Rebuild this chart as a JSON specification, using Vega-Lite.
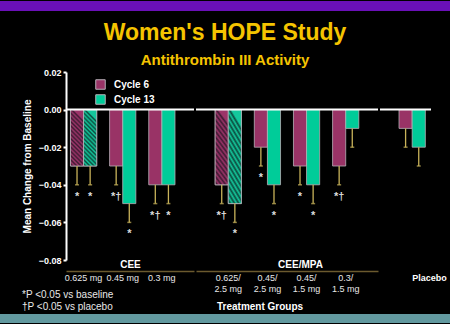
{
  "$schema": "https://vega.github.io/schema/vega-lite/v6.json",
  "background": "#000000",
  "padding": 0,
  "spacing": 0,
  "config": {
    "font": "Liberation Sans",
    "view": {"stroke": null},
    "axis": {"grid": false, "labelOverlap": false}
  },
  "datasets": {
    "d": [
      {"set": "CEE", "dose": "0.625 mg", "cycle": "Cycle 6", "value": -0.03, "lo": -0.04, "sig": "*", "hatch": true},
      {"set": "CEE", "dose": "0.625 mg", "cycle": "Cycle 13", "value": -0.03, "lo": -0.04, "sig": "*", "hatch": true},
      {"set": "CEE", "dose": "0.45 mg", "cycle": "Cycle 6", "value": -0.03, "lo": -0.04, "sig": "*†", "hatch": false},
      {"set": "CEE", "dose": "0.45 mg", "cycle": "Cycle 13", "value": -0.05, "lo": -0.06, "sig": "*", "hatch": false},
      {"set": "CEE", "dose": "0.3 mg", "cycle": "Cycle 6", "value": -0.04, "lo": -0.05, "sig": "*†", "hatch": false},
      {"set": "CEE", "dose": "0.3 mg", "cycle": "Cycle 13", "value": -0.04, "lo": -0.05, "sig": "*", "hatch": false},
      {"set": "CEE/MPA", "dose": "0.625/|2.5 mg", "cycle": "Cycle 6", "value": -0.04, "lo": -0.05, "sig": "*†", "hatch": true},
      {"set": "CEE/MPA", "dose": "0.625/|2.5 mg", "cycle": "Cycle 13", "value": -0.05, "lo": -0.06, "sig": "*", "hatch": true},
      {"set": "CEE/MPA", "dose": "0.45/|2.5 mg", "cycle": "Cycle 6", "value": -0.02, "lo": -0.03, "sig": "*", "hatch": false},
      {"set": "CEE/MPA", "dose": "0.45/|2.5 mg", "cycle": "Cycle 13", "value": -0.04, "lo": -0.05, "sig": "*", "hatch": false},
      {"set": "CEE/MPA", "dose": "0.45/|1.5 mg", "cycle": "Cycle 6", "value": -0.03, "lo": -0.04, "sig": "*", "hatch": false},
      {"set": "CEE/MPA", "dose": "0.45/|1.5 mg", "cycle": "Cycle 13", "value": -0.04, "lo": -0.05, "sig": "*", "hatch": false},
      {"set": "CEE/MPA", "dose": "0.3/|1.5 mg", "cycle": "Cycle 6", "value": -0.03, "lo": -0.04, "sig": "*†", "hatch": false},
      {"set": "CEE/MPA", "dose": "0.3/|1.5 mg", "cycle": "Cycle 13", "value": -0.01, "lo": -0.02, "sig": "", "hatch": false},
      {"set": "Placebo", "dose": "Placebo", "cycle": "Cycle 6", "value": -0.01, "lo": -0.02, "sig": "", "hatch": false},
      {"set": "Placebo", "dose": "Placebo", "cycle": "Cycle 13", "value": -0.02, "lo": -0.03, "sig": "", "hatch": false}
    ]
  },
  "resolve": {"scale": {"color": "shared"}, "legend": {"color": "shared"}},
  "vconcat": [
    {
      "width": 450,
      "height": 10,
      "view": {"fill": "#6a10b8", "stroke": null},
      "title": {
        "text": "Women's HOPE Study",
        "subtitle": "Antithrombin III Activity",
        "orient": "bottom",
        "anchor": "middle",
        "frame": "group",
        "offset": 11,
        "fontSize": 23,
        "fontWeight": "bold",
        "color": "#f5c400",
        "subtitleFontSize": 15,
        "subtitleFontWeight": "bold",
        "subtitleColor": "#f5c400",
        "subtitleFont": "Liberation Sans",
        "subtitlePadding": 8
      },
      "data": {"values": [{}]},
      "mark": {"type": "text"},
      "encoding": {"text": {"value": ""}}
    },
    {
      "spacing": 0,
      "resolve": {
        "scale": {"x": "independent", "xOffset": "independent", "y": "shared", "color": "shared"},
        "axis": {"x": "independent", "y": "independent"},
        "legend": {"color": "shared"}
      },
      "hconcat": [
        {
          "width": 22,
          "height": 188,
          "data": {"values": [{}]},
          "mark": {"type": "text"},
          "encoding": {"text": {"value": ""}}
        },
        {
          "width": 128,
          "height": 188,
          "data": {"name": "d"},
          "transform": [{"filter": "datum.set === 'CEE'"}],
          "resolve": {"axis": {"y": "independent"}},
          "title": {
            "text": "*P <0.05 vs baseline",
            "subtitle": "†P <0.05 vs placebo",
            "orient": "bottom",
            "anchor": "start",
            "frame": "group",
            "dx": -44,
            "offset": 8,
            "fontSize": 10,
            "fontWeight": "normal",
            "color": "#e8e8e8",
            "subtitleFontSize": 10,
            "subtitleFontWeight": "normal",
            "subtitleColor": "#e8e8e8",
            "subtitleFont": "Liberation Sans",
            "subtitlePadding": 2
          },
          "layer": [
            {
              "mark": {"type": "bar", "stroke": "#b8b0b8", "strokeWidth": 1, "strokeOpacity": 0.8},
              "encoding": {
                "x": {
                  "field": "dose", "type": "nominal", "sort": ["0.625 mg", "0.45 mg", "0.3 mg"],
                  "scale": {"paddingInner": 0.33, "paddingOuter": 0.3, "align": 0.19},
                  "axis": {
                    "title": "CEE", "titleY": -2, "titleBaseline": "bottom", "titleFontWeight": "bold",
                    "titleFontSize": 10, "titleColor": "white", "offset": 11,
                    "domainColor": "#6b5a2e", "domainWidth": 1.5, "ticks": false,
                    "labelColor": "#e8e8e8", "labelFontSize": 9, "labelPadding": 2, "labelAngle": 0,
                    "labelOverlap": false
                  }
                },
                "xOffset": {"field": "cycle", "type": "nominal", "sort": ["Cycle 6", "Cycle 13"], "scale": {"paddingInner": 0, "paddingOuter": 0}},
                "y": {
                  "field": "value", "type": "quantitative",
                  "scale": {"domain": [-0.08, 0.02], "nice": false},
                  "axis": {
                    "orient": "left",
                    "values": [-0.08, -0.06, -0.04, -0.02, 0, 0.02],
                    "format": ".2f",
                    "labelOverlap": false,
                    "labelBound": false,
                    "labelFlush": false,
                    "title": "Mean Change from Baseline",
                    "domainColor": "white", "domainWidth": 2,
                    "tickColor": "white", "tickWidth": 2, "tickSize": 3,
                    "labelColor": "white", "labelFontWeight": "bold", "labelFontSize": 9, "labelPadding": 2,
                    "titleColor": "white", "titleFontSize": 10, "titleFontWeight": "bold", "titlePadding": 6
                  }
                },
                "y2": {"datum": 0},
                "color": {
                  "field": "cycle", "type": "nominal",
                  "scale": {"domain": ["Cycle 6", "Cycle 13"], "range": ["#993366", "#00cc99"]},
                  "legend": {
                    "orient": "none", "legendX": 95, "legendY": 78, "title": null,
                    "symbolType": "square", "symbolSize": 90, "symbolStrokeColor": "#c8c8c8", "symbolStrokeWidth": 1,
                    "labelColor": "white", "labelFontSize": 10, "labelFontWeight": "bold", "rowPadding": 0, "labelOffset": 8
                  }
                }
              }
            },
            {
              "transform": [{"filter": "datum.hatch && datum.cycle === 'Cycle 6'"}],
              "mark": {
                "type": "bar", "stroke": "#b8b0b8", "strokeWidth": 1, "strokeOpacity": 0.8,
                "fill": {"gradient": "linear", "x1": 0, "y1": 1, "x2": 0.2333, "y2": 0, "stops": [
                  {"offset": 0, "color": "#9c3469"}, {"offset": 0.0357, "color": "#3e1a32"}, {"offset": 0.0714, "color": "#9c3469"}, {"offset": 0.1071, "color": "#3e1a32"},
                  {"offset": 0.1429, "color": "#9c3469"}, {"offset": 0.1786, "color": "#3e1a32"}, {"offset": 0.2143, "color": "#9c3469"}, {"offset": 0.25, "color": "#3e1a32"},
                  {"offset": 0.2857, "color": "#9c3469"}, {"offset": 0.3214, "color": "#3e1a32"}, {"offset": 0.3571, "color": "#9c3469"}, {"offset": 0.3929, "color": "#3e1a32"},
                  {"offset": 0.4286, "color": "#9c3469"}, {"offset": 0.4643, "color": "#3e1a32"}, {"offset": 0.5, "color": "#9c3469"}, {"offset": 0.5357, "color": "#3e1a32"},
                  {"offset": 0.5714, "color": "#9c3469"}, {"offset": 0.6071, "color": "#3e1a32"}, {"offset": 0.6429, "color": "#9c3469"}, {"offset": 0.6786, "color": "#3e1a32"},
                  {"offset": 0.7143, "color": "#9c3469"}, {"offset": 0.75, "color": "#3e1a32"}, {"offset": 0.7857, "color": "#9c3469"}, {"offset": 0.8214, "color": "#3e1a32"},
                  {"offset": 0.8571, "color": "#9c3469"}, {"offset": 0.8929, "color": "#3e1a32"}, {"offset": 0.9286, "color": "#9c3469"}, {"offset": 0.9643, "color": "#3e1a32"},
                  {"offset": 1, "color": "#9c3469"}
                ]}
              },
              "encoding": {
                "x": {"field": "dose", "type": "nominal", "sort": ["0.625 mg", "0.45 mg", "0.3 mg"]},
                "xOffset": {"field": "cycle", "type": "nominal", "sort": ["Cycle 6", "Cycle 13"]},
                "y": {"field": "value", "type": "quantitative", "axis": null},
                "y2": {"datum": 0}
              }
            },
            {
              "transform": [{"filter": "datum.hatch && datum.cycle === 'Cycle 13'"}],
              "mark": {
                "type": "bar", "stroke": "#b8b0b8", "strokeWidth": 1, "strokeOpacity": 0.8,
                "fill": {"gradient": "linear", "x1": 0, "y1": 1, "x2": 0.2333, "y2": 0, "stops": [
                  {"offset": 0, "color": "#14c89c"}, {"offset": 0.0357, "color": "#0c4a3e"}, {"offset": 0.0714, "color": "#14c89c"}, {"offset": 0.1071, "color": "#0c4a3e"},
                  {"offset": 0.1429, "color": "#14c89c"}, {"offset": 0.1786, "color": "#0c4a3e"}, {"offset": 0.2143, "color": "#14c89c"}, {"offset": 0.25, "color": "#0c4a3e"},
                  {"offset": 0.2857, "color": "#14c89c"}, {"offset": 0.3214, "color": "#0c4a3e"}, {"offset": 0.3571, "color": "#14c89c"}, {"offset": 0.3929, "color": "#0c4a3e"},
                  {"offset": 0.4286, "color": "#14c89c"}, {"offset": 0.4643, "color": "#0c4a3e"}, {"offset": 0.5, "color": "#14c89c"}, {"offset": 0.5357, "color": "#0c4a3e"},
                  {"offset": 0.5714, "color": "#14c89c"}, {"offset": 0.6071, "color": "#0c4a3e"}, {"offset": 0.6429, "color": "#14c89c"}, {"offset": 0.6786, "color": "#0c4a3e"},
                  {"offset": 0.7143, "color": "#14c89c"}, {"offset": 0.75, "color": "#0c4a3e"}, {"offset": 0.7857, "color": "#14c89c"}, {"offset": 0.8214, "color": "#0c4a3e"},
                  {"offset": 0.8571, "color": "#14c89c"}, {"offset": 0.8929, "color": "#0c4a3e"}, {"offset": 0.9286, "color": "#14c89c"}, {"offset": 0.9643, "color": "#0c4a3e"},
                  {"offset": 1, "color": "#14c89c"}
                ]}
              },
              "encoding": {
                "x": {"field": "dose", "type": "nominal", "sort": ["0.625 mg", "0.45 mg", "0.3 mg"]},
                "xOffset": {"field": "cycle", "type": "nominal", "sort": ["Cycle 6", "Cycle 13"]},
                "y": {"field": "value", "type": "quantitative", "axis": null},
                "y2": {"datum": 0}
              }
            },
            {
              "mark": {"type": "rule", "color": "#c9b35a", "strokeWidth": 1.3},
              "encoding": {
                "x": {"field": "dose", "type": "nominal", "sort": ["0.625 mg", "0.45 mg", "0.3 mg"]},
                "xOffset": {"field": "cycle", "type": "nominal", "sort": ["Cycle 6", "Cycle 13"]},
                "y": {"field": "value", "type": "quantitative", "axis": null},
                "y2": {"field": "lo"}
              }
            },
            {
              "mark": {"type": "tick", "color": "#c9b35a", "size": 4, "thickness": 1.5},
              "encoding": {
                "x": {"field": "dose", "type": "nominal", "sort": ["0.625 mg", "0.45 mg", "0.3 mg"]},
                "xOffset": {"field": "cycle", "type": "nominal", "sort": ["Cycle 6", "Cycle 13"]},
                "y": {"field": "lo", "type": "quantitative", "axis": null}
              }
            },
            {
              "mark": {"type": "text", "color": "#dcdcdc", "fontSize": 11, "fontWeight": "bold", "baseline": "alphabetic", "dy": 15},
              "encoding": {
                "x": {"field": "dose", "type": "nominal", "sort": ["0.625 mg", "0.45 mg", "0.3 mg"]},
                "xOffset": {"field": "cycle", "type": "nominal", "sort": ["Cycle 6", "Cycle 13"]},
                "y": {"field": "lo", "type": "quantitative", "axis": null},
                "text": {"field": "sig"}
              }
            },
            {
              "data": {"values": [{}]},
              "mark": {"type": "rule", "color": "white", "strokeWidth": 2},
              "encoding": {"y": {"datum": 0, "axis": null}}
            }
          ]
        },
        {
          "width": 182,
          "height": 188,
          "data": {"name": "d"},
          "transform": [{"filter": "datum.set === 'CEE/MPA'"}],
          "title": {
            "text": "Treatment Groups",
            "orient": "bottom",
            "anchor": "start",
            "frame": "group",
            "dx": 21,
            "offset": 8.5,
            "fontSize": 10,
            "fontWeight": "bold",
            "color": "white"
          },
          "layer": [
            {
              "mark": {"type": "bar", "stroke": "#b8b0b8", "strokeWidth": 1, "strokeOpacity": 0.8},
              "encoding": {
                "x": {
                  "field": "dose", "type": "nominal", "sort": ["0.625/|2.5 mg", "0.45/|2.5 mg", "0.45/|1.5 mg", "0.3/|1.5 mg"],
                  "scale": {"paddingInner": 0.33, "paddingOuter": 0.49, "align": 0.5},
                  "axis": {
                    "title": "CEE/MPA", "titleX": 104, "titleY": -2, "titleBaseline": "bottom", "titleFontWeight": "bold",
                    "titleFontSize": 10, "titleColor": "white", "offset": 11,
                    "domainColor": "#6b5a2e", "domainWidth": 1.5, "ticks": false,
                    "labelColor": "#e8e8e8", "labelFontSize": 9, "labelPadding": 2, "labelAngle": 0,
                    "labelLineHeight": 11, "labelOverlap": false,
                    "labelExpr": "split(datum.label, '|')"
                  }
                },
                "xOffset": {"field": "cycle", "type": "nominal", "sort": ["Cycle 6", "Cycle 13"], "scale": {"paddingInner": 0, "paddingOuter": 0}},
                "y": {"field": "value", "type": "quantitative", "scale": {"domain": [-0.08, 0.02], "nice": false}, "axis": null},
                "y2": {"datum": 0},
                "color": {
                  "field": "cycle", "type": "nominal",
                  "scale": {"domain": ["Cycle 6", "Cycle 13"], "range": ["#993366", "#00cc99"]}
                }
              }
            },
            {
              "transform": [{"filter": "datum.hatch && datum.cycle === 'Cycle 6'"}],
              "mark": {
                "type": "bar", "stroke": "#b8b0b8", "strokeWidth": 1, "strokeOpacity": 0.8,
                "fill": {"gradient": "linear", "x1": 0, "y1": 1, "x2": 0.2333, "y2": 0, "stops": [
                  {"offset": 0, "color": "#9c3469"}, {"offset": 0.0357, "color": "#3e1a32"}, {"offset": 0.0714, "color": "#9c3469"}, {"offset": 0.1071, "color": "#3e1a32"},
                  {"offset": 0.1429, "color": "#9c3469"}, {"offset": 0.1786, "color": "#3e1a32"}, {"offset": 0.2143, "color": "#9c3469"}, {"offset": 0.25, "color": "#3e1a32"},
                  {"offset": 0.2857, "color": "#9c3469"}, {"offset": 0.3214, "color": "#3e1a32"}, {"offset": 0.3571, "color": "#9c3469"}, {"offset": 0.3929, "color": "#3e1a32"},
                  {"offset": 0.4286, "color": "#9c3469"}, {"offset": 0.4643, "color": "#3e1a32"}, {"offset": 0.5, "color": "#9c3469"}, {"offset": 0.5357, "color": "#3e1a32"},
                  {"offset": 0.5714, "color": "#9c3469"}, {"offset": 0.6071, "color": "#3e1a32"}, {"offset": 0.6429, "color": "#9c3469"}, {"offset": 0.6786, "color": "#3e1a32"},
                  {"offset": 0.7143, "color": "#9c3469"}, {"offset": 0.75, "color": "#3e1a32"}, {"offset": 0.7857, "color": "#9c3469"}, {"offset": 0.8214, "color": "#3e1a32"},
                  {"offset": 0.8571, "color": "#9c3469"}, {"offset": 0.8929, "color": "#3e1a32"}, {"offset": 0.9286, "color": "#9c3469"}, {"offset": 0.9643, "color": "#3e1a32"},
                  {"offset": 1, "color": "#9c3469"}
                ]}
              },
              "encoding": {
                "x": {"field": "dose", "type": "nominal", "sort": ["0.625/|2.5 mg", "0.45/|2.5 mg", "0.45/|1.5 mg", "0.3/|1.5 mg"]},
                "xOffset": {"field": "cycle", "type": "nominal", "sort": ["Cycle 6", "Cycle 13"]},
                "y": {"field": "value", "type": "quantitative", "axis": null},
                "y2": {"datum": 0}
              }
            },
            {
              "transform": [{"filter": "datum.hatch && datum.cycle === 'Cycle 13'"}],
              "mark": {
                "type": "bar", "stroke": "#b8b0b8", "strokeWidth": 1, "strokeOpacity": 0.8,
                "fill": {"gradient": "linear", "x1": 0, "y1": 1, "x2": 0.2333, "y2": 0, "stops": [
                  {"offset": 0, "color": "#14c89c"}, {"offset": 0.0357, "color": "#0c4a3e"}, {"offset": 0.0714, "color": "#14c89c"}, {"offset": 0.1071, "color": "#0c4a3e"},
                  {"offset": 0.1429, "color": "#14c89c"}, {"offset": 0.1786, "color": "#0c4a3e"}, {"offset": 0.2143, "color": "#14c89c"}, {"offset": 0.25, "color": "#0c4a3e"},
                  {"offset": 0.2857, "color": "#14c89c"}, {"offset": 0.3214, "color": "#0c4a3e"}, {"offset": 0.3571, "color": "#14c89c"}, {"offset": 0.3929, "color": "#0c4a3e"},
                  {"offset": 0.4286, "color": "#14c89c"}, {"offset": 0.4643, "color": "#0c4a3e"}, {"offset": 0.5, "color": "#14c89c"}, {"offset": 0.5357, "color": "#0c4a3e"},
                  {"offset": 0.5714, "color": "#14c89c"}, {"offset": 0.6071, "color": "#0c4a3e"}, {"offset": 0.6429, "color": "#14c89c"}, {"offset": 0.6786, "color": "#0c4a3e"},
                  {"offset": 0.7143, "color": "#14c89c"}, {"offset": 0.75, "color": "#0c4a3e"}, {"offset": 0.7857, "color": "#14c89c"}, {"offset": 0.8214, "color": "#0c4a3e"},
                  {"offset": 0.8571, "color": "#14c89c"}, {"offset": 0.8929, "color": "#0c4a3e"}, {"offset": 0.9286, "color": "#14c89c"}, {"offset": 0.9643, "color": "#0c4a3e"},
                  {"offset": 1, "color": "#14c89c"}
                ]}
              },
              "encoding": {
                "x": {"field": "dose", "type": "nominal", "sort": ["0.625/|2.5 mg", "0.45/|2.5 mg", "0.45/|1.5 mg", "0.3/|1.5 mg"]},
                "xOffset": {"field": "cycle", "type": "nominal", "sort": ["Cycle 6", "Cycle 13"]},
                "y": {"field": "value", "type": "quantitative", "axis": null},
                "y2": {"datum": 0}
              }
            },
            {
              "mark": {"type": "rule", "color": "#c9b35a", "strokeWidth": 1.3},
              "encoding": {
                "x": {"field": "dose", "type": "nominal", "sort": ["0.625/|2.5 mg", "0.45/|2.5 mg", "0.45/|1.5 mg", "0.3/|1.5 mg"]},
                "xOffset": {"field": "cycle", "type": "nominal", "sort": ["Cycle 6", "Cycle 13"]},
                "y": {"field": "value", "type": "quantitative", "axis": null},
                "y2": {"field": "lo"}
              }
            },
            {
              "mark": {"type": "tick", "color": "#c9b35a", "size": 4, "thickness": 1.5},
              "encoding": {
                "x": {"field": "dose", "type": "nominal", "sort": ["0.625/|2.5 mg", "0.45/|2.5 mg", "0.45/|1.5 mg", "0.3/|1.5 mg"]},
                "xOffset": {"field": "cycle", "type": "nominal", "sort": ["Cycle 6", "Cycle 13"]},
                "y": {"field": "lo", "type": "quantitative", "axis": null}
              }
            },
            {
              "mark": {"type": "text", "color": "#dcdcdc", "fontSize": 11, "fontWeight": "bold", "baseline": "alphabetic", "dy": 15},
              "encoding": {
                "x": {"field": "dose", "type": "nominal", "sort": ["0.625/|2.5 mg", "0.45/|2.5 mg", "0.45/|1.5 mg", "0.3/|1.5 mg"]},
                "xOffset": {"field": "cycle", "type": "nominal", "sort": ["Cycle 6", "Cycle 13"]},
                "y": {"field": "lo", "type": "quantitative", "axis": null},
                "text": {"field": "sig"}
              }
            },
            {
              "data": {"values": [{}]},
              "mark": {"type": "rule", "color": "white", "strokeWidth": 2},
              "encoding": {"y": {"datum": 0, "axis": null}}
            }
          ]
        },
        {
          "width": 51,
          "height": 188,
          "data": {"name": "d"},
          "transform": [{"filter": "datum.set === 'Placebo'"}],
          "layer": [
            {
              "mark": {"type": "bar", "stroke": "#b8b0b8", "strokeWidth": 1, "strokeOpacity": 0.8},
              "encoding": {
                "x": {
                  "field": "dose", "type": "nominal",
                  "scale": {"paddingInner": 0.33, "paddingOuter": 0.315, "align": 0.77},
                  "axis": {
                    "title": null, "offset": 11, "domain": false, "ticks": false,
                    "labelColor": "white", "labelFontSize": 9, "labelFontWeight": "bold", "labelPadding": 2,
                    "labelAngle": 0, "labelAlign": "left", "labelOverlap": false
                  }
                },
                "xOffset": {"field": "cycle", "type": "nominal", "sort": ["Cycle 6", "Cycle 13"], "scale": {"paddingInner": 0, "paddingOuter": 0}},
                "y": {"field": "value", "type": "quantitative", "scale": {"domain": [-0.08, 0.02], "nice": false}, "axis": null},
                "y2": {"datum": 0},
                "color": {
                  "field": "cycle", "type": "nominal",
                  "scale": {"domain": ["Cycle 6", "Cycle 13"], "range": ["#993366", "#00cc99"]}
                }
              }
            },
            {
              "mark": {"type": "rule", "color": "#c9b35a", "strokeWidth": 1.3},
              "encoding": {
                "x": {"field": "dose", "type": "nominal"},
                "xOffset": {"field": "cycle", "type": "nominal", "sort": ["Cycle 6", "Cycle 13"]},
                "y": {"field": "value", "type": "quantitative", "axis": null},
                "y2": {"field": "lo"}
              }
            },
            {
              "mark": {"type": "tick", "color": "#c9b35a", "size": 4, "thickness": 1.5},
              "encoding": {
                "x": {"field": "dose", "type": "nominal"},
                "xOffset": {"field": "cycle", "type": "nominal", "sort": ["Cycle 6", "Cycle 13"]},
                "y": {"field": "lo", "type": "quantitative", "axis": null}
              }
            },
            {
              "data": {"values": [{}]},
              "mark": {"type": "rule", "color": "white", "strokeWidth": 2},
              "encoding": {"y": {"datum": 0, "axis": null}}
            }
          ]
        }
      ]
    },
    {
      "width": 450,
      "height": 9,
      "view": {"fill": "#62999f", "stroke": null},
      "data": {"values": [{}]},
      "mark": {"type": "text"},
      "encoding": {"text": {"value": ""}}
    }
  ]
}
